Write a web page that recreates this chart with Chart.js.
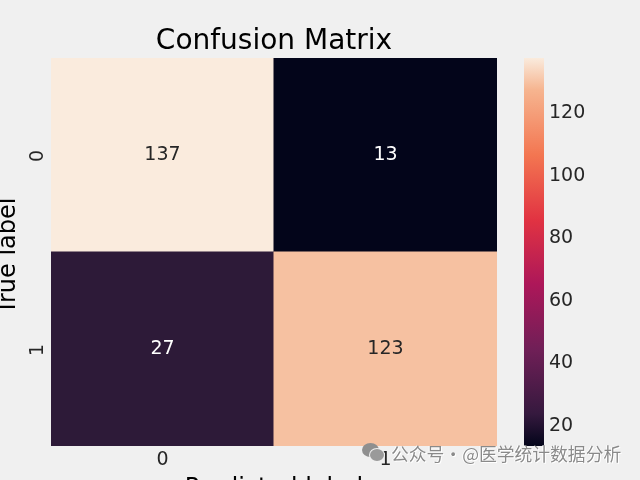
<!DOCTYPE html>
<html>
<head>
<meta charset="utf-8">
<script src="https://cdn.jsdelivr.net/npm/chart.js@4"></script>
<style>
html,body{margin:0;padding:0;width:640px;height:480px;overflow:hidden;background:#f0f0f0}
#wrapA{position:absolute;left:-7px;top:0;width:647px;height:503px}
#wrapB{position:absolute;left:500px;top:0;width:140px;height:520px}
#wm{position:absolute;left:391px;top:440px;font:17.8px "Noto Sans CJK SC";color:#8a8a8a;text-shadow:1px 1px 0 #fff,-1px 0 0 #fff;white-space:nowrap}
.b{position:absolute;background:#8f8f8f;border-radius:50%}
</style>
</head>
<body>
<div id="wrapA"><canvas id="main"></canvas></div>
<div id="wrapB"><canvas id="bar"></canvas></div>
<span class="b" style="left:362px;top:443px;width:17px;height:14px"></span>
<span class="b" style="left:370px;top:449px;width:14px;height:12px;background:#9a9a9a;box-shadow:0 0 0 1px #f0f0f0"></span>
<div id="wm">公众号·@医学统计数据分析</div>
<script>
const predictedLabels = ["0", "1"];
const trueLabels = ["0", "1"];
const row0Values = [137, 13];
const row1Values = [27, 123];
const row0Colors = ["#FAEBDD", "#03051A"];
const row1Colors = ["#2D1A38", "#F6C1A1"];
const row0TextColors = ["#262626", "#ffffff"];
const row1TextColors = ["#ffffff", "#262626"];
const colorbarTicks = [20, 40, 60, 80, 100, 120];
const colorbarRange = [13, 137];
const rocketStops = ["#03051A", "#35193E", "#701F57", "#AD1759", "#E13342", "#F37651", "#F6B48F", "#FAEBDD"];
const rocketAt = [0, 0.083, 0.25, 0.417, 0.583, 0.75, 0.917, 1];

const FONT = "'DejaVu Sans'";
const INK = "#262626";
const BG = "#f0f0f0";

const bgPlugin = {
  id: "bg",
  beforeDraw(c) { c.ctx.save(); c.ctx.fillStyle = BG; c.ctx.fillRect(0, 0, c.width, c.height); c.ctx.restore(); }
};

const annotate = {
  id: "annotate",
  afterDatasetsDraw(c) {
    const ctx = c.ctx;
    ctx.save();
    ctx.font = "19px " + FONT;
    ctx.textAlign = "center";
    ctx.textBaseline = "middle";
    c.data.datasets.forEach((ds, d) => {
      c.getDatasetMeta(d).data.forEach((el, i) => {
        const p = el.getCenterPoint();
        ctx.fillStyle = ds.textColors[i];
        ctx.fillText(String(ds.values[i]), p.x, p.y);
      });
    });
    ctx.restore();
  }
};

new Chart(document.getElementById("main"), {
  type: "bar",
  data: {
    labels: predictedLabels,
    datasets: [
      { data: [1, 1], values: row1Values, textColors: row1TextColors, backgroundColor: row1Colors, stack: "s", barPercentage: 1, categoryPercentage: 1, inflateAmount: 0.5 },
      { data: [1, 1], values: row0Values, textColors: row0TextColors, backgroundColor: row0Colors, stack: "s", barPercentage: 1, categoryPercentage: 1, inflateAmount: 0.5 }
    ]
  },
  options: {
    responsive: true, maintainAspectRatio: false, animation: false,
    layout: { padding: { left: 0, right: 143, top: 0, bottom: 0 } },
    plugins: {
      legend: { display: false },
      tooltip: { enabled: false },
      title: {
        display: true, text: "Confusion Matrix", color: "#000", fullSize: false,
        font: { family: FONT, size: 28, weight: "normal", lineHeight: 1.18 },
        padding: { top: 25, bottom: 0 }
      }
    },
    scales: {
      x: {
        stacked: true,
        grid: { display: false, drawTicks: false },
        border: { display: false },
        ticks: { color: INK, font: { family: FONT, size: 19 }, padding: 3, maxRotation: 0 },
        title: { display: true, text: "Predicted label", color: "#000", font: { family: FONT, size: 24 }, padding: { top: 2, bottom: 0 } },
        afterFit(s) { s.height = 57; }
      },
      y: {
        stacked: true, min: 0, max: 2,
        grid: { display: false, drawTicks: false },
        border: { display: false },
        afterBuildTicks(s) { s.ticks = [{ value: 0.5 }, { value: 1.5 }]; },
        ticks: {
          color: INK, font: { family: FONT, size: 19 }, padding: 7, minRotation: 90, maxRotation: 90, crossAlign: "center", labelOffset: 1,
          callback: v => trueLabels[v === 1.5 ? 0 : 1]
        },
        title: { display: true, text: "True label ", color: "#000", font: { family: FONT, size: 24 }, padding: { top: 1, bottom: 0 } },
        afterFit(s) { s.width = 58; }
      }
    }
  },
  plugins: [bgPlugin, annotate]
});

new Chart(document.getElementById("bar"), {
  type: "bar",
  data: {
    labels: [""],
    datasets: [{
      data: [colorbarRange],
      barPercentage: 1, categoryPercentage: 1,
      backgroundColor(ctx) {
        const a = ctx.chart.chartArea;
        if (!a) return "#000";
        const g = ctx.chart.ctx.createLinearGradient(0, a.bottom, 0, a.top);
        rocketStops.forEach((col, i) => g.addColorStop(rocketAt[i], col));
        return g;
      }
    }]
  },
  options: {
    responsive: true, maintainAspectRatio: false, animation: false,
    layout: { padding: { left: 24, right: 0, top: 58, bottom: 74 } },
    plugins: { legend: { display: false }, tooltip: { enabled: false } },
    scales: {
      x: { display: false },
      y: {
        position: "right", min: colorbarRange[0], max: colorbarRange[1],
        grid: { display: false, drawTicks: false },
        border: { display: false },
        afterBuildTicks(s) { s.ticks = colorbarTicks.map(v => ({ value: v })); },
        ticks: { color: INK, font: { family: FONT, size: 19 }, padding: 5, labelOffset: 2 },
        afterFit(s) { s.width = 96; }
      }
    }
  },
  plugins: [bgPlugin]
});
</script>
</body>
</html>
